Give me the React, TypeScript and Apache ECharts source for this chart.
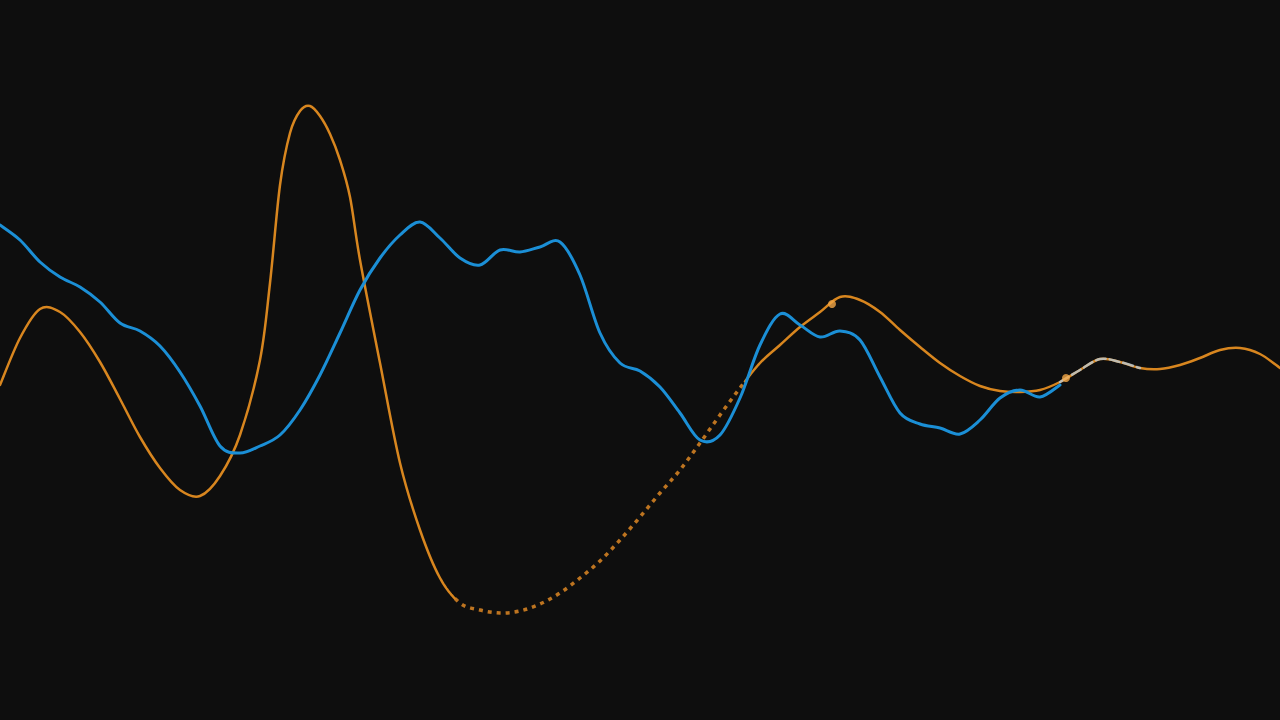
import React, { useEffect, useRef } from "react";
import * as echarts from "echarts";

// Horizontal positions (scale 0..1280) and levels (scale 0..72)
const orangeX = [0, 20, 40, 60, 80, 100, 120, 140, 160, 180, 200, 220, 240, 260, 270, 280, 290, 300, 310, 320, 330, 340, 350, 360, 380, 400, 420, 440, 460, 480, 500, 520, 540, 560, 580, 600, 620, 640, 660, 680, 700, 720, 740, 760, 780, 800, 820, 840, 860, 880, 900, 920, 940, 960, 980, 1000, 1020, 1040, 1060, 1080, 1100, 1120, 1140, 1160, 1180, 1200, 1220, 1240, 1260, 1280];
const orange = [33.5, 38.2, 41.1, 40.8, 38.8, 35.8, 32.1, 28.3, 25.2, 23, 22.4, 24.4, 28.5, 36, 43.7, 53.5, 58.7, 60.9, 61.4, 60.4, 58.6, 56, 52.3, 46, 35.7, 25.7, 19, 14.2, 11.7, 11, 10.7, 10.9, 11.6, 12.7, 14.2, 15.9, 18, 20.3, 22.7, 25, 27.7, 30.5, 33.2, 35.7, 37.5, 39.3, 40.8, 42.3, 42, 40.8, 39, 37.3, 35.7, 34.4, 33.4, 32.9, 32.8, 33, 33.8, 35, 36.1, 35.8, 35.2, 35.1, 35.5, 36.2, 37, 37.2, 36.6, 35.2];
// part of the orange line drawn dotted
const orangeDottedFrom = 455;
const orangeDottedTo = 745;

const blueX = [0, 20, 40, 60, 80, 100, 120, 140, 160, 180, 200, 220, 240, 260, 280, 300, 320, 340, 360, 380, 400, 420, 440, 460, 480, 500, 520, 540, 560, 580, 600, 620, 640, 660, 680, 700, 720, 740, 760, 780, 800, 820, 840, 860, 880, 900, 920, 940, 960, 980, 1000, 1020, 1040, 1060];
const blue = [49.5, 48, 45.8, 44.3, 43.3, 41.8, 39.7, 38.9, 37.4, 34.8, 31.4, 27.4, 26.7, 27.4, 28.5, 31, 34.5, 38.7, 43, 46.2, 48.5, 49.8, 48.2, 46.2, 45.5, 47, 46.8, 47.3, 47.8, 44.5, 38.7, 35.7, 34.9, 33.3, 30.7, 28, 28.5, 32.2, 37.5, 40.6, 39.5, 38.3, 38.9, 38, 34.3, 30.7, 29.6, 29.2, 28.6, 30, 32.2, 33, 32.3, 33.5];

const blueOverlapX = [1060, 1080, 1100, 1120, 1140];
const blueOverlap = [33.8, 35, 36.1, 35.8, 35.2];

const markerX = [832, 1066];
const marker = [41.6, 34.2];

const ORANGE = "#d8861f";
const BLUE = "#1b8fd6";

type P = number[];

// Catmull-Rom spline through pixel points, as cubic Beziers, restricted to [x0, x1]
function splinePath(pts: P[], x0: number, x1: number, xs: number[]): string {
  const n = pts.length;
  let d = "";
  for (let i = 0; i < n - 1; i++) {
    if (xs[i + 1] <= x0 || xs[i] >= x1) continue;
    const p0 = pts[Math.max(i - 1, 0)];
    const p1 = pts[i];
    const p2 = pts[i + 1];
    const p3 = pts[Math.min(i + 2, n - 1)];
    const c1 = [p1[0] + (p2[0] - p0[0]) / 6, p1[1] + (p2[1] - p0[1]) / 6];
    const c2 = [p2[0] - (p3[0] - p1[0]) / 6, p2[1] - (p3[1] - p1[1]) / 6];
    const bez = (t: number) => {
      const u = 1 - t;
      return [
        u * u * u * p1[0] + 3 * u * u * t * c1[0] + 3 * u * t * t * c2[0] + t * t * t * p2[0],
        u * u * u * p1[1] + 3 * u * u * t * c1[1] + 3 * u * t * t * c2[1] + t * t * t * p2[1],
      ];
    };
    const ta = xs[i] < x0 ? (x0 - xs[i]) / (xs[i + 1] - xs[i]) : 0;
    const tb = xs[i + 1] > x1 ? (x1 - xs[i]) / (xs[i + 1] - xs[i]) : 1;
    if (ta === 0 && tb === 1) {
      if (!d) d = `M${p1[0]},${p1[1]}`;
      d += ` C${c1[0]},${c1[1]} ${c2[0]},${c2[1]} ${p2[0]},${p2[1]}`;
    } else {
      const steps = 12;
      for (let k = 0; k <= steps; k++) {
        const q = bez(ta + ((tb - ta) * k) / steps);
        d += (d ? " L" : "M") + `${q[0]},${q[1]}`;
      }
    }
  }
  return d;
}

function splineSeries(
  xs: number[], ys: number[], x0: number, x1: number, style: Record<string, unknown>, z: number
) {
  return {
    type: "custom",
    coordinateSystem: "cartesian2d",
    data: [[xs[0], ys[0]]],
    clip: false,
    z,
    silent: true,
    renderItem: (_params: unknown, api: any) => {
      const pts = xs.map((x, i) => api.coord([x, ys[i]]));
      return {
        type: "path",
        shape: { pathData: splinePath(pts, x0, x1, xs) },
        style: { fill: "none", lineCap: "round", lineJoin: "round", ...style },
      };
    },
  };
}

export default function App() {
  const ref = useRef<HTMLDivElement>(null);
  useEffect(() => {
    if (!ref.current) return;
    const chart = echarts.init(ref.current, null, { renderer: "svg" });
    chart.setOption({
      animation: false,
      backgroundColor: "#0e0e0e",
      grid: { left: 0, right: 0, top: 0, bottom: 0 },
      xAxis: { type: "value", min: 0, max: 1280, show: false },
      yAxis: { type: "value", min: 0, max: 72, show: false },
      series: [
        splineSeries(blueX, blue, 0, 1280, { stroke: BLUE, lineWidth: 3 }, 3),
        splineSeries(orangeX, orange, 0, orangeDottedFrom, { stroke: ORANGE, lineWidth: 2.5 }, 2),
        splineSeries(orangeX, orange, orangeDottedFrom, orangeDottedTo,
          { stroke: "#d07f22", lineWidth: 3.5, lineDash: [4, 5], lineCap: "butt", opacity: 0.9 }, 2),
        splineSeries(orangeX, orange, orangeDottedTo, 1280, { stroke: ORANGE, lineWidth: 2.5 }, 2),
        splineSeries(blueOverlapX, blueOverlap, 0, 1280,
          { stroke: "#b9c9d6", lineWidth: 2.5, lineDash: [10, 4], opacity: 0.8 }, 4),
        {
          type: "scatter",
          data: markerX.map((x, i) => [x, marker[i]]),
          symbolSize: 8,
          itemStyle: { color: "#f2a646" },
          z: 5,
        },
      ],
    });
    return () => chart.dispose();
  }, []);
  return <div ref={ref} style={{ position: "fixed", left: 0, top: 0, width: 1280, height: 720 }} />;
}
